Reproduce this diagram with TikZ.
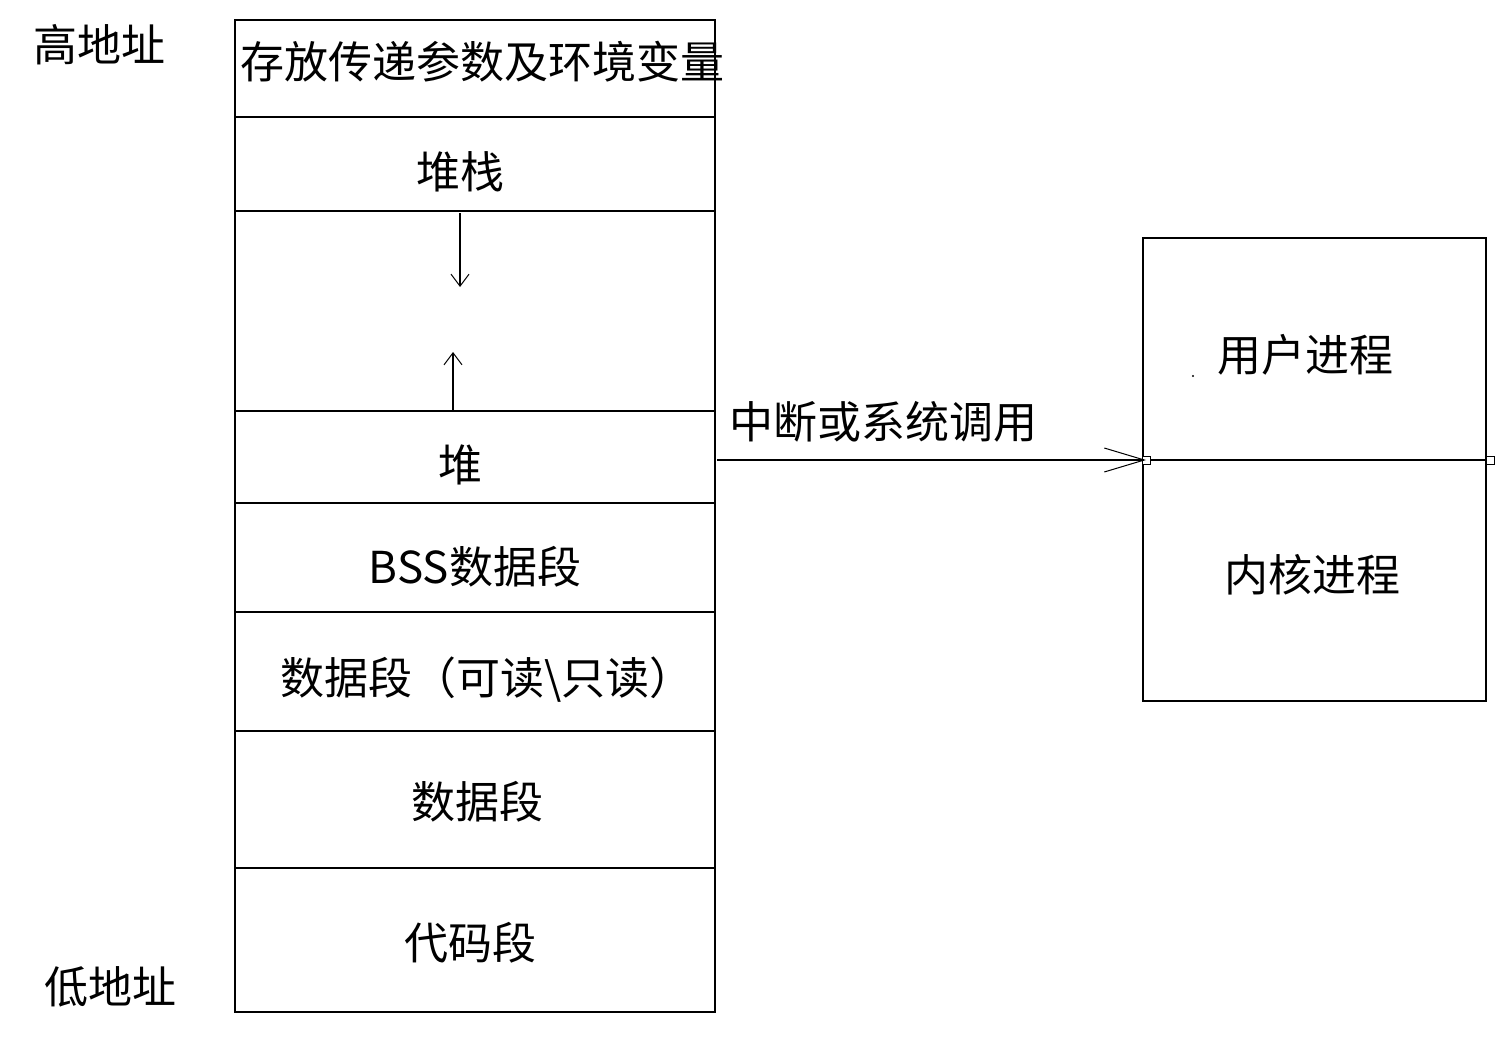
\documentclass[tikz,border=0pt]{standalone}
\usepackage{fontspec}
\setmainfont{Noto Sans CJK SC}
\usetikzlibrary{arrows.meta}
\begin{document}
\begin{tikzpicture}[x=1pt,y=-1pt,
  box/.style={draw,line width=1.2pt},
  lbl/.style={font=\fontsize{44}{48}\selectfont,inner sep=0},
  ln/.style={line width=1.2pt},
  tip/.style={-{Straight Barb[length=12pt,width=18pt,line width=1pt]}}]
\useasboundingbox (0,0) rectangle (1510,1046);
\draw[box] (235,20) rectangle (715,1012);
\foreach \y in {117,211,411,503,612,731,868} \draw[ln] (235,\y) -- (715,\y);
\node[lbl] (t1) at (482,62) {存放传递参数及环境变量};
\node[lbl] (t2) at (460,172) {堆栈};
\coordinate (d1) at (460,213); \coordinate (d2) at (460,287);
\draw[ln,tip] (d1) -- (d2);
\coordinate (u1) at (453,411); \coordinate (u2) at (453,352);
\draw[ln,tip] (u1) -- (u2);
\node[lbl] (t3) at (460,465) {堆};
\node[lbl] (t4) at (475,567) {BSS数据段};
\node[lbl] (t5) at (487,680) {数据段（可读\textbackslash 只读）};
\node[lbl] (t6) at (477,802) {数据段};
\node[lbl] (t7) at (470,943) {代码段};
\node[lbl] (hi) at (100,45) {高地址};
\node[lbl] (lo) at (110,987) {低地址};
\draw[box] (1143,238) rectangle (1486,701);
\coordinate (m1) at (1146,460); \coordinate (m2) at (1490,460);
\draw[ln] (m1) -- (m2);
\draw[line width=0.8pt,fill=white] (1142,456) rectangle (1150,464);
\draw[line width=0.8pt,fill=white] (1486,456) rectangle (1494,464);
\node[lbl] (u) at (1305,355) {用户进程};
\fill (1193,376) circle (1.2);
\node[lbl] (k) at (1312,575) {内核进程};
\coordinate (a1) at (717,460);
\draw[ln,-{Straight Barb[length=40pt,width=24pt,line width=1pt]}] (a1) -- (m1);
\node[lbl] (c) at (883,422) {中断或系统调用};
\end{tikzpicture}
\end{document}
